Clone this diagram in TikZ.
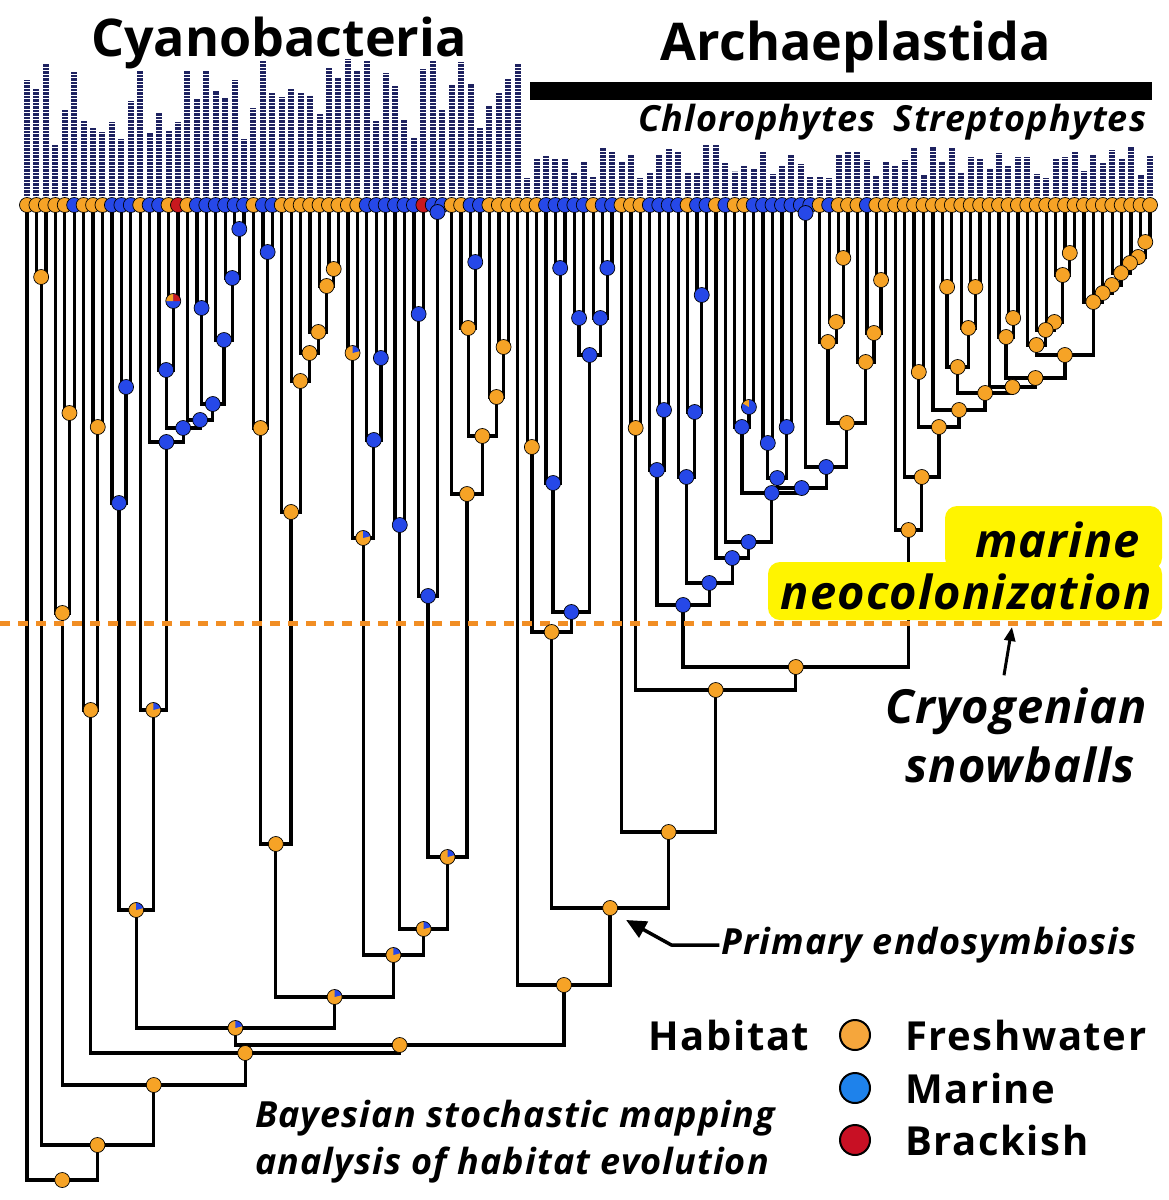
\documentclass[tikz,border=0pt]{standalone}
\usepackage{fontspec}
\setmainfont{Open Sans}
\usetikzlibrary{arrows.meta,calc,positioning}
\definecolor{fresh}{RGB}{246,163,38}
\definecolor{marineblue}{RGB}{38,72,232}
\definecolor{brackred}{RGB}{200,24,30}
\definecolor{legfresh}{RGB}{245,166,60}
\definecolor{legmarine}{RGB}{30,130,235}
\definecolor{legbrack}{RGB}{200,16,36}
\definecolor{snowline}{RGB}{241,142,36}
\definecolor{hilite}{RGB}{255,244,0}
\definecolor{labelink}{RGB}{30,34,96}

% internal nodes: name / child / child / height / habitat
\def\treelist{%
c1/t1/t2/277/O,c2/t4/t5/413/O,c3/t3/c2/613/O,c4/t7/t8/427/O,c5/t6/c4/710/O,%
c6/t10/t11/387/B,c7/t9/c6/503/B,c8/t15/t16/301/P,c9/t14/c8/370/B,c10/t18/t19/308/B,%
c11/t22/t23/229/B,c12/t21/c11/278/B,c13/t20/c12/340/B,c14/c10/c13/404/B,c15/t17/c14/420/B,%
c16/c9/c15/428/B,c17/t13/c16/442/B,c18/t12/c17/710/Q,c19/c7/c18/910/Q,%
c20/t25/t26/252/B,c21/t24/c20/428/O,c22/t32/t33/269/O,c23/t31/c22/286/O,c24/t30/c23/332/O,%
c25/t29/c24/353/O,c26/t28/c25/381/O,c27/t27/c26/512/O,c28/c21/c27/844/O,%
c29/t34/t35/353/Q,c30/t37/t38/358/B,c31/t36/c30/440/B,c32/c29/c31/538/Q,c33/t39/t40/525/B,%
c34/t41/t42/314/B,c35/t43/t44/212/B,c36/c34/c35/596/B,c37/t47/t48/262/B,c38/t46/c37/328/O,%
c39/t50/t51/347/O,c40/t49/c39/397/O,c41/c38/c40/436/O,c42/t45/c41/494/O,c43/c36/c42/857/Q,%
c44/c33/c43/929/Q,c45/c32/c44/955/Q,c46/c28/c45/997/Q,c47/c19/c46/1028/Q,%
a1/t53/t54/447/O,a2/t56/t57/268/B,a3/t55/a2/483/B,a4/t58/t59/318/B,a5/t61/t62/268/B,%
a6/t60/a5/318/B,a7/a4/a6/355/B,a8/a3/a7/612/B,a9/a1/a8/632/O,a10/t64/t65/428/O,%
a11/t67/t68/410/B,a12/t66/a11/470/B,a13/t71/t72/295/B,a14/t70/a13/412/B,a15/t69/a14/477/B,%
a16/t76/t77/407/M,a17/t75/a16/427/B,a18/t78/t79/443/B,a19/t80/t81/427/B,a20/a18/a19/478/B,%
a21/t82/t83/213/B,a22/t86/t87/258/O,a23/t85/a22/322/O,a24/t84/a23/342/O,a25/t90/t91/280/O,%
a26/t89/a25/333/O,a27/t88/a26/362/O,a28/a24/a27/423/O,a29/a21/a28/467/B,a30/a20/a29/488/B,%
a31/a17/a30/493/B,a32/t74/a31/542/B,a33/t73/a32/558/B,a34/a15/a33/583/B,a35/a12/a34/605/B,%
s1/t94/t95/372/O,s2/t97/t98/287/O,s3/t100/t101/287/O,s4/t99/s3/328/O,s5/s2/s4/367/O,%
s6/t104/t105/318/O,s7/t103/s6/337/O,s8/t110/t111/253/O,s9/t109/s8/275/O,s10/t108/s9/322/O,%
s11/t107/s10/330/O,s12/t106/s11/345/O,s13/t118/t119/242/O,s14/t117/s13/257/O,%
s15/t116/s14/263/O,s16/t115/s15/273/O,s17/t114/s16/285/O,s18/t113/s17/293/O,%
s19/t112/s18/302/O,s20/s12/s19/355/O,s21/s7/s20/378/O,s22/t102/s21/387/O,s23/s5/s22/393/O,%
s24/t96/s23/410/O,s25/s1/s24/427/O,s26/t93/s25/477/O,s27/t92/s26/530/O,%
a36/a35/s27/667/O,a37/a10/a36/690/O,a38/t63/a37/832/O,a39/a9/a38/908/O,a40/t52/a39/985/O,%
c48/c47/a40/1045/O,c49/c5/c48/1053/O,c50/c3/c49/1085/O,c51/c1/c50/1145/O,c52/t0/c51/1180/O}

\begin{document}
\begin{tikzpicture}[x=1pt,y=-1pt,line join=miter]
\tikzset{
  branch/.style={line width=3.3pt,black},
  tiplabel/.style={line width=6pt,labelink,dash pattern=on 2.4pt off 1.1pt},
  hab/.style={circle,draw=black,line width=0.7pt,inner sep=0pt,minimum size=15pt},
  habO/.style={fill=fresh},
  habB/.style={fill=marineblue},
  habR/.style={fill=brackred},
  habQ/.style={fill=fresh,path picture={\fill[marineblue] (path picture bounding box.center)
      -- ++(0pt,8pt) arc[start angle=90,end angle=15,radius=8pt] -- cycle;}},
  habM/.style={fill=marineblue,path picture={\fill[fresh] (path picture bounding box.center)
      -- ++(0pt,8pt) arc[start angle=90,end angle=150,radius=8pt] -- cycle;}},
  habP/.style={fill=marineblue,path picture={\fill[fresh] (path picture bounding box.center)
      -- ++(0pt,8pt) arc[start angle=90,end angle=180,radius=8pt] -- cycle;
      \fill[brackred] (path picture bounding box.center)
      -- ++(0pt,8pt) arc[start angle=90,end angle=0,radius=8pt] -- cycle;}},
  title/.style={font=\fontsize{52}{52}\selectfont\bfseries,inner sep=2pt},
  group/.style={font=\fontsize{36}{36}\selectfont\bfseries\itshape\addfontfeatures{LetterSpace=3},inner sep=2pt},
  annot/.style={font=\fontsize{47}{47}\selectfont\bfseries\itshape\addfontfeatures{LetterSpace=2.5},inner sep=2pt},
  legtext/.style={font=\fontsize{40}{40}\selectfont\bfseries\addfontfeatures{LetterSpace=4},inner sep=2pt},
  legdot/.style={circle,draw=black,line width=2pt,minimum size=30pt,inner sep=0pt},
  pointer/.style={line width=3.5pt,line join=round}
}
\useasboundingbox (0,0) rectangle (1168,1200);

% tips
\foreach \i in {0,...,119}\coordinate (t\i) at ({27+9.437*\i},205);

% tip labels
\pgfmathsetseed{42}
\foreach \i in {0,...,119}{
  \ifnum\i<53 \pgfmathsetmacro\lblTop{58+rnd*90}\else\pgfmathsetmacro\lblTop{144+rnd*34}\fi
  \draw[tiplabel] (t\i |- 0,196) -- (t\i |- 0,\lblTop);
}

% branches
\foreach \nm/\a/\b/\y/\col in \treelist{
  \coordinate (mid) at ($(\a)!.5!(\b)$);
  \coordinate (\nm) at (mid |- 0,\y);
  \draw[branch] (\a) |- (\nm) -| (\b);
}

% tip states
\foreach \from/\to/\col in {0/4/O,5/5/B,6/8/O,9/11/B,12/12/O,13/14/B,15/15/O,16/16/R,17/17/O,
  18/23/B,24/24/O,25/26/B,27/35/O,36/41/B,42/42/R,43/44/B,45/46/O,47/48/B,49/54/O,55/59/B,
  60/60/O,61/62/B,63/65/O,66/69/B,70/70/O,71/72/B,73/73/O,74/74/B,75/76/O,77/83/B,84/84/O,
  85/85/B,86/88/O,89/89/B,90/119/O}{
  \foreach \i in {\from,...,\to}\node[hab,hab\col] (td\i) at (t\i) {};
}

% Cryogenian line
\draw[snowline,line width=5pt,dash pattern=on 10pt off 8pt] (0,623) -- (1168,623);

% ancestral states
\foreach \nm/\a/\b/\y/\col in \treelist{
  \node[hab,hab\col] (\nm d) at (\nm) {};
}

% titles
\node[title] (cyanoTitle) at (279,43) {Cyanobacteria};
\node[title] (archTitle) at (856,47) {Archaeplastida};
\fill (530,82) rectangle (1152,100);
\node[group] (chloro) at (757,122) {Chlorophytes};
\node[group] (strepto) at (1020,122) {Streptophytes};

% marine neocolonization
\fill[hilite,rounded corners=12pt] (945,506) rectangle (1162,570);
\fill[hilite,rounded corners=12pt] (768,562) rectangle (1162,620);
\node[annot,anchor=east] (marineTxt) at (1142,540) {marine};
\node[annot] (neoTxt) at (966,592) {neocolonization};

% snowballs
\node[annot] (cryo) at (1016,711) {Cryogenian};
\node[annot] (snow) at (1020,765) {snowballs};
\coordinate (cryoPt) at (1012,627);
\draw[line width=3pt,-{Triangle[length=14pt,width=11pt]}] ([xshift=-12pt,yshift=10pt]cryo.north) -- (cryoPt);

% primary endosymbiosis
\node[group] (prim) at (929,945) {Primary endosymbiosis};
\coordinate (endoTip) at ($(a39)+(16,12)$);
\draw[pointer,-{Triangle[length=20pt,width=18pt]}] (prim.west) -- ++(-48,0) -- (endoTip);

% legend
\node[legtext] (habitat) at (729,1035) {Habitat};
\node[legdot,fill=legfresh] (lgF) at (855,1035) {};
\node[legdot,fill=legmarine] (lgM) at (855,1088) {};
\node[legdot,fill=legbrack] (lgB) at (855,1140) {};
\node[legtext,right=32pt of lgF] (txtF) {Freshwater};
\node[legtext,right=32pt of lgM] (txtM) {Marine};
\node[legtext,right=32pt of lgB] (txtB) {Brackish};

% caption
\node[group] (bayes1) at (515,1118) {Bayesian stochastic mapping};
\node[group] (bayes2) at (512,1165) {analysis of habitat evolution};
\end{tikzpicture}
\end{document}
